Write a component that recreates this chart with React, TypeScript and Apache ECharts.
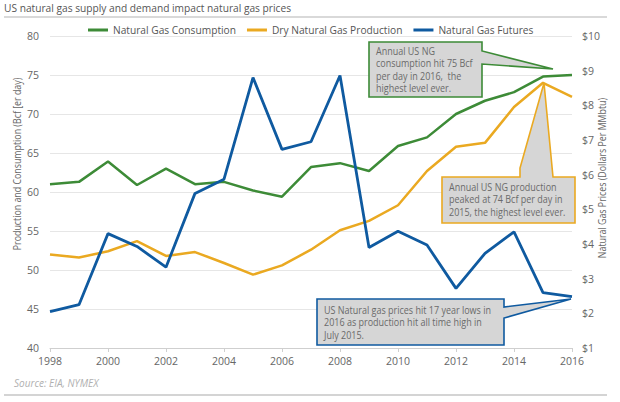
import React, { useEffect, useRef } from "react";
import * as echarts from "echarts";

const years = [
  "1998", "1999", "2000", "2001", "2002", "2003", "2004", "2005", "2006", "2007",
  "2008", "2009", "2010", "2011", "2012", "2013", "2014", "2015", "2016",
];
const consumption = [61.0, 61.3, 63.9, 60.9, 63.0, 61.0, 61.3, 60.2, 59.4, 63.2, 63.7, 62.7, 65.9, 67.0, 70.0, 71.7, 72.8, 74.8, 75.0];
const production = [52.0, 51.6, 52.4, 53.7, 51.8, 52.3, 50.9, 49.4, 50.6, 52.6, 55.1, 56.3, 58.3, 62.7, 65.8, 66.3, 70.9, 74.0, 72.2];
const futures = [2.05, 2.25, 4.3, 3.93, 3.33, 5.46, 5.87, 8.8, 6.73, 6.95, 8.86, 3.9, 4.37, 3.97, 2.72, 3.73, 4.35, 2.6, 2.48];

const seriesNames = ["Natural Gas Consumption", "Dry Natural Gas Production", "Natural Gas Futures"];
const titleText = "US natural gas supply and demand impact natural gas prices";
const sourceText = "Source: EIA, NYMEX";
const leftAxisName = "Production and Consumption (Bcf [er day)";
const rightAxisName = "Natural Gas Prices (Dollars Per MMbtu)";
const noteConsumption = "Annual US NG\nconsumption hit 75 Bcf\nper day in 2016,  the\nhighest level ever.";
const noteProduction = "Annual US NG production\npeaked at 74 Bcf per day in\n2015, the highest level ever.";
const notePrices = "US Natural gas prices hit 17 year lows in\n2016 as production hit all time high in\nJuly 2015.";

const GREEN = "#3d8b37";
const ORANGE = "#eaa921";
const BLUE = "#0f5aa0";
const FONT = "'Open Sans', sans-serif";
const CALLOUT_FILL = "#d6d6d6";
const NOTE_TEXT = "#6a6a6a";
// horizontal squeeze for the narrow annotation lettering
const NARROW = 0.9;

function callout(points: number[][], stroke: string, text: string, tx: number, ty: number) {
  return [
    {
      type: "polygon",
      z: 100,
      shape: { points },
      style: { fill: CALLOUT_FILL, stroke, lineWidth: 1.6 },
    },
    {
      type: "text",
      z: 101,
      x: tx,
      y: ty,
      scaleX: NARROW,
      style: {
        text,
        fill: NOTE_TEXT,
        font: `10px ${FONT}`,
        lineHeight: 12.5,
        textVerticalAlign: "top",
      },
    },
  ];
}

export default function App() {
  const ref = useRef<HTMLDivElement>(null);

  useEffect(() => {
    if (!ref.current) return;
    const chart = echarts.init(ref.current, undefined, { renderer: "svg" });
    chart.setOption({
      animation: false,
      backgroundColor: "#ffffff",
      textStyle: { fontFamily: FONT },
      legend: {
        top: 20,
        left: 83,
        itemWidth: 20,
        itemHeight: 3,
        itemGap: 11,
        icon: "rect",
        textStyle: { color: "#555", fontSize: 10.2, fontFamily: FONT },
        data: seriesNames,
      },
      grid: { left: 50, right: 48, top: 36, bottom: 54 },
      xAxis: {
        type: "category",
        data: years,
        boundaryGap: false,
        axisLine: { lineStyle: { color: "#cfcfcf" } },
        axisTick: { interval: 1, length: 4, lineStyle: { color: "#cfcfcf" } },
        axisLabel: { interval: 1, color: "#666", fontSize: 10.5, margin: 7, fontFamily: FONT },
      },
      yAxis: [
        {
          type: "value",
          min: 40,
          max: 80,
          interval: 5,
          axisLine: { show: false },
          axisTick: { show: false },
          axisLabel: { color: "#666", fontSize: 10.5, margin: 11, fontFamily: FONT },
          splitLine: { lineStyle: { color: "#e6e6e6", width: 1 } },
        },
        {
          type: "value",
          min: 1,
          max: 10,
          interval: 1,
          position: "right",
          axisLine: { show: false },
          axisTick: { show: false },
          axisLabel: { color: "#666", fontSize: 10.5, margin: 10, fontFamily: FONT, formatter: (v: number) => "$" + v },
          splitLine: { show: false },
        },
      ],
      series: [
        {
          name: seriesNames[0],
          type: "line",
          data: consumption,
          yAxisIndex: 0,
          symbol: "none",
          lineStyle: { color: GREEN, width: 2.5 },
          itemStyle: { color: GREEN },
          z: 3,
        },
        {
          name: seriesNames[1],
          type: "line",
          data: production,
          yAxisIndex: 0,
          symbol: "none",
          lineStyle: { color: ORANGE, width: 2.5 },
          itemStyle: { color: ORANGE },
          z: 2,
        },
        {
          name: seriesNames[2],
          type: "line",
          data: futures,
          yAxisIndex: 1,
          symbol: "none",
          lineStyle: { color: BLUE, width: 2.8 },
          itemStyle: { color: BLUE },
          z: 4,
        },
      ],
      graphic: [
        {
          type: "text",
          x: 4,
          y: 8,
          style: { text: titleText, fill: "#555", font: `10.2px ${FONT}`, textVerticalAlign: "middle" },
        },
        {
          type: "line",
          shape: { x1: 4, y1: 17, x2: 607, y2: 17 },
          style: { stroke: "#cccccc", lineWidth: 1.5 },
        },
        {
          type: "text",
          x: 17,
          y: 164,
          rotation: Math.PI / 2,
          scaleX: 0.85,
          style: { text: leftAxisName, fill: "#666", font: `10.4px ${FONT}`, textAlign: "center", textVerticalAlign: "middle" },
        },
        {
          type: "text",
          x: 602,
          y: 178,
          rotation: Math.PI / 2,
          scaleX: 0.85,
          style: { text: rightAxisName, fill: "#666", font: `10.4px ${FONT}`, textAlign: "center", textVerticalAlign: "middle" },
        },
        {
          type: "text",
          x: 14,
          y: 383,
          style: { text: sourceText, fill: "#b0b0b0", font: `italic 10px ${FONT}`, textVerticalAlign: "middle" },
        },
        {
          type: "line",
          shape: { x1: 4, y1: 395, x2: 607, y2: 395 },
          style: { stroke: "#d4d4d4", lineWidth: 2 },
        },
        ...callout(
          [[369, 42], [482, 42], [482, 51], [553, 69], [482, 64], [482, 97], [369, 97]],
          GREEN,
          noteConsumption,
          376,
          45
        ),
        ...callout(
          [[442, 177], [520, 177], [520, 168], [544, 83], [553, 177], [575, 177], [575, 223], [442, 223]],
          ORANGE,
          noteProduction,
          449,
          181
        ),
        ...callout(
          [[317, 299], [504, 299], [504, 307], [571, 299], [504, 318], [504, 345], [317, 345]],
          BLUE,
          notePrices,
          324,
          304
        ),
      ],
    });
    return () => chart.dispose();
  }, []);

  return (
    <div
      ref={ref}
      style={{ position: "fixed", left: 0, top: 0, width: 620, height: 402, background: "#fff" }}
    />
  );
}
